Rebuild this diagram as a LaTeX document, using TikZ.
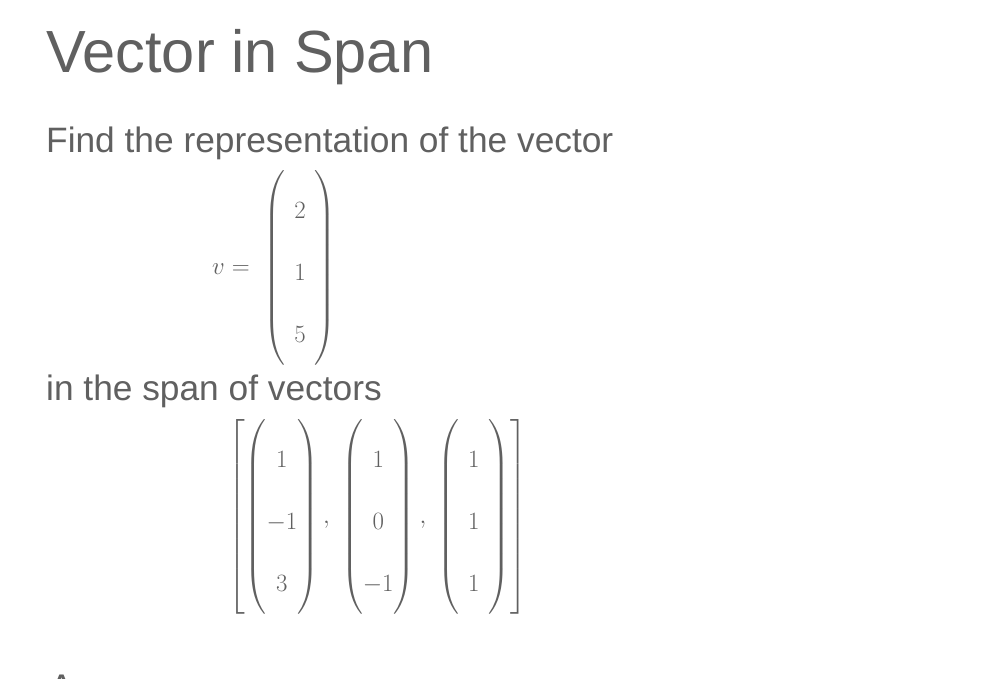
\documentclass[tikz,border=0pt]{standalone}
\usepackage{amsmath}
\usepackage{fontspec}
\setmainfont{Liberation Sans}
\definecolor{txt}{HTML}{606060}
\newcommand{\pd}[1]{\hspace{9pt}#1\hspace{9pt}}
\begin{document}
\begin{tikzpicture}[x=1pt,y=-1pt,
  lbl/.style={anchor=base west,inner sep=0pt,text=txt},
  mth/.style={inner sep=0pt,text=txt}]
\useasboundingbox[fill=white] (0,0) rectangle (986,678);
\node[lbl,font=\fontsize{59.5}{62}\selectfont] (title) at (46,72) {Vector in Span};
\node[lbl,font=\fontsize{35.3}{40}\selectfont] (find) at (46,152) {Find the representation of the vector};
\node[mth,anchor=west,font=\fontsize{38}{40}\selectfont] (v) at (212,268)
 {\renewcommand\arraystretch{1.55}$v=\;\begin{pmatrix}\pd{2}\\1\\5\end{pmatrix}$};
\node[lbl,font=\fontsize{35.3}{40}\selectfont] (span) at (46,400) {in the span of vectors};
\node[mth,anchor=west,font=\fontsize{38}{40}\selectfont] (m) at (228,517)
 {\renewcommand\arraystretch{1.55}$\left[\begin{pmatrix}\pd{1}\\-1\\3\end{pmatrix},\;\begin{pmatrix}\pd{1}\\0\\-1\end{pmatrix},\;\begin{pmatrix}\pd{1}\\1\\1\end{pmatrix}\right]$};
\node[lbl,font=\fontsize{40}{44}\selectfont] (a) at (48,702) {A};
\end{tikzpicture}
\end{document}
